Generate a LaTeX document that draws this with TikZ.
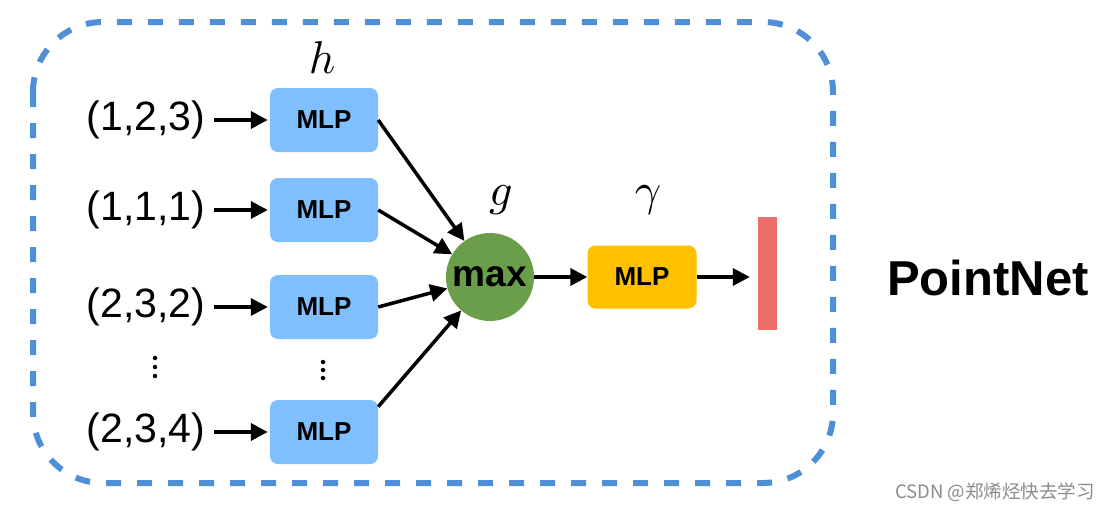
\documentclass[tikz,border=0pt]{standalone}
\usepackage{graphicx}
\usepackage{fontspec}
\newfontfamily\arial{Liberation Sans}
\newfontfamily\cjk{Noto Sans CJK SC}
\usetikzlibrary{arrows.meta}
\definecolor{boxblue}{HTML}{80BFFD}
\definecolor{dashblue}{HTML}{4F8FD8}
\definecolor{maxgreen}{HTML}{6A9E4A}
\definecolor{gold}{HTML}{FFC000}
\definecolor{barred}{HTML}{EA7067}
\tikzset{
  mlpbox/.style={fill=boxblue, rounded corners=8pt, minimum width=108pt, minimum height=64pt, inner sep=0pt,
    font=\arial\bfseries\fontsize{26}{26}\selectfont},
  inlabel/.style={inner sep=0pt, font=\arial\fontsize{41}{41}\selectfont},
  conn/.style={line width=3.5pt, -{Triangle[length=17pt,width=17pt]}},
  greek/.style={inner sep=0pt},
  dotc/.style={circle, fill=black, inner sep=0pt, minimum size=4.5pt},
}
\begin{document}
\begin{tikzpicture}[x=1pt,y=-1pt]
\useasboundingbox (0,0) rectangle (1109,512);
\fill[white] (0,0) rectangle (1109,512);
\draw[dashblue, line width=6pt, dash pattern=on 15pt off 16pt, rounded corners=70pt] (33,22) rectangle (833,483);

\node[inlabel] (i1) at (146,120) {(1,2,3)};
\node[inlabel] (i2) at (146,210) {(1,1,1)};
\node[inlabel] (i3) at (146,307) {(2,3,2)};
\node[inlabel] (i4) at (146,432) {(2,3,4)};

\node[mlpbox] (m1) at (324,120) {MLP};
\node[mlpbox] (m2) at (324,210) {MLP};
\node[mlpbox] (m3) at (324,307) {MLP};
\node[mlpbox] (m4) at (324,432) {MLP};

\node[dotc] (d1) at (155,358) {};
\node[dotc] (d2) at (155,367) {};
\node[dotc] (d3) at (155,376) {};
\node[dotc] (e1) at (323,362) {};
\node[dotc] (e2) at (323,370) {};
\node[dotc] (e3) at (323,378) {};

\node[circle, fill=maxgreen, minimum size=88pt, inner sep=0pt, font=\arial\bfseries\fontsize{37}{37}\selectfont] (max) at (490,277) {max};
\node[fill=gold, rounded corners=8pt, minimum width=109pt, minimum height=63pt, inner sep=0pt, font=\arial\bfseries\fontsize{26}{26}\selectfont] (g1) at (642,277) {MLP};
\node[fill=barred, minimum width=19pt, minimum height=113pt, inner sep=0pt] (bar) at (767.5,273.5) {};

\node[greek] (h) at (322,58) {\scalebox{4.6}{$h$}};
\node[greek] (g) at (501,200) {\scalebox{4.6}{$g$}};
\node[greek] (gam) at (648,200) {\scalebox{4.6}{$\gamma$}};

\node[inner sep=0pt, font=\arial\bfseries\fontsize{49}{49}\selectfont] (pn) at (988,278) {PointNet};
\node[anchor=east, inner sep=0pt, text=black!45, font=\cjk\fontsize{18.5}{18.5}\selectfont] (wm) at (1095,492) {CSDN @郑烯烃快去学习};

\foreach \k in {1,2,3,4} {
  \draw[conn, shorten <=9pt, shorten >=2pt] (i\k.east) -- (m\k.west);
}
\draw[conn] (m1.east) -- (max);
\draw[conn] (m2.east) -- (max);
\draw[conn] (m3.east) -- (max);
\draw[conn] (m4.25) -- (max);
\draw[conn] (max.east) -- (g1.west);
\draw[conn, shorten >=8pt] (g1.east) -- (g1.east -| bar.west);
\end{tikzpicture}
\end{document}
